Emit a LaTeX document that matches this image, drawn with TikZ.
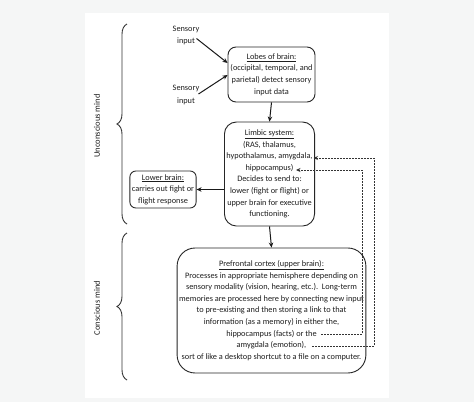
\documentclass[tikz,border=0pt]{standalone}
\usepackage{fontspec}
\setmainfont{Carlito}
\usetikzlibrary{arrows.meta,decorations.pathreplacing,calc}
\definecolor{bggray}{HTML}{F5F6F6}
\definecolor{txt}{HTML}{1E1E1E}
\tikzset{
  box/.style={draw=black!85,line width=0.9pt,align=center,text=txt,font=\fontsize{8.3}{11.6}\selectfont,inner sep=2pt},
  lbl/.style={align=center,text=txt,font=\fontsize{8.3}{12.5}\selectfont,inner sep=1pt},
  arr/.style={draw=black!90,line width=1pt,-{Stealth[length=5pt,width=4.5pt]}},
  darr/.style={draw=black!80,line width=0.9pt,dash pattern=on 2pt off 1pt,-{Stealth[length=4.5pt,width=4pt]}},
  brc/.style={draw=black!80,line width=0.9pt,decorate,decoration={brace,amplitude=10pt}},
  side/.style={rotate=90,text=txt,font=\fontsize{8.5}{10}\selectfont}
}
\begin{document}
\begin{tikzpicture}[x=1pt,y=-1pt]
\useasboundingbox (0,0) rectangle (474,402);
\fill[bggray] (0,0) rectangle (474,402);
\fill[white] (85,13) rectangle (389,398);

% nodes
\node[lbl] (s1) at (186,35.5) {Sensory\\input};
\node[lbl] (s2) at (186,95) {Sensory\\input};
\node[box,rounded corners=8pt,minimum width=87pt,minimum height=55pt] (lobes) at (271.5,74.5)
  {\underline{Lobes of brain:}\\(occipital, temporal, and\\parietal) detect sensory\\input data};
\node[box,rounded corners=12pt,minimum width=87pt,minimum height=104pt] (limbic) at (269.5,174)
  {\underline{Limbic system:}\\(RAS, thalamus,\\hypothalamus, amygdala,\\hippocampus)\\Decides to send to:\\lower (fight or flight) or\\upper brain for executive\\functioning.};
\node[box,rounded corners=6pt,minimum width=64pt,minimum height=37pt] (lower) at (163,189.5)
  {\underline{Lower brain:}\\carries out fight or\\flight response};
\node[box,rounded corners=18pt,minimum width=187pt,minimum height=125pt] (pfc) at (271.5,310.5)
  {\underline{Prefrontal cortex (upper brain):}\\Processes in appropriate hemisphere depending on\\sensory modality (vision, hearing, etc.).\ \ Long-term\\memories are processed here by connecting new input\\to pre-existing and then storing a link to that\\information (as a memory) in either the,\\hippocampus (facts) or the\\amygdala (emotion),\\sort of like a desktop shortcut to a file on a computer.};

\node[side] (unc) at (97,126) {Unconscious mind};
\node[side] (con) at (97,308) {Conscious mind};

% braces
\draw[brc] (127,224) -- (127,24);
\draw[brc] (127,380) -- (127,233);

% solid arrows
\draw[arr] ($(s1.east)+(-4,3)$) -- ($(lobes.west)+(0,-11.5)$);
\draw[arr] ($(s2.east)+(-2,-1)$) -- ($(lobes.west)+(0,0.5)$);
\draw[arr] (lobes.south) -- (limbic.north);
\draw[arr] (limbic.west |- lower.east) -- (lower.east);
\draw[arr] (limbic.south) -- (pfc.north);

% dashed feedback
\coordinate (h1) at (321,334);
\coordinate (a1) at (312,346);
\coordinate (ht) at (296,170);
\coordinate (at) at (313.5,158);
\draw[darr] (h1) -- (362,334) -- (362,170) -- (ht);
\draw[darr] (a1) -- (374,346) -- (374,158) -- (at);
\end{tikzpicture}
\end{document}
